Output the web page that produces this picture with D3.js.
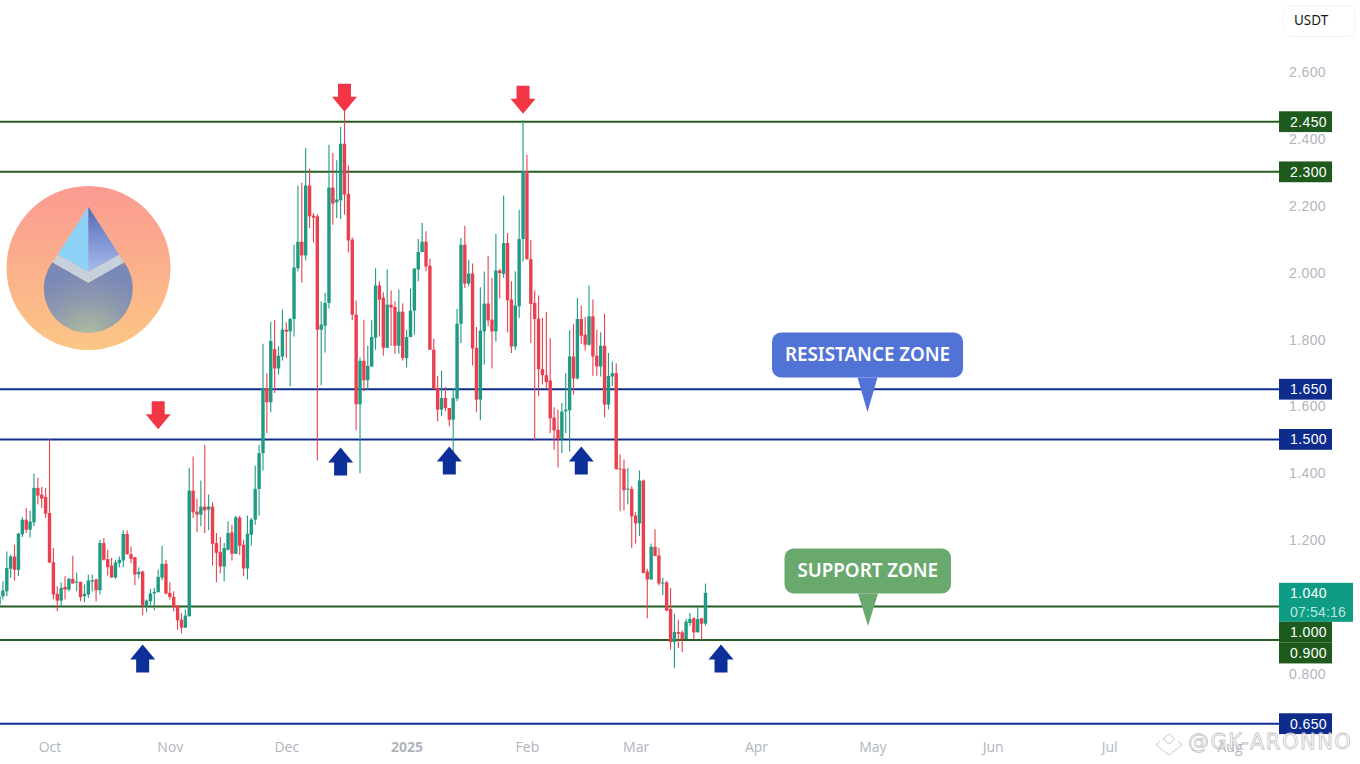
<!DOCTYPE html>
<html>
<head>
<meta charset="utf-8">
<script src="https://cdn.jsdelivr.net/npm/d3@7"></script>
<style>
  html, body { margin: 0; padding: 0; background: #fff; }
  svg { display: block; }
  text { font-family: "Noto Sans", sans-serif; }
</style>
</head>
<body>
<div id="vis-container"></div>
<script>
// daily candles, one per day, the last one is lastDay
const lastDay = "2025-03-19";

const opens = [
  1.006,1.031,1.046,1.113,1.150,1.110,1.216,1.260,1.230,1.252,
  1.355,1.335,1.328,1.280,1.133,1.038,1.018,1.059,1.051,1.083,
  1.073,1.074,1.031,1.036,1.075,1.081,1.049,1.190,1.142,1.123,
  1.087,1.130,1.138,1.217,1.157,1.148,1.097,1.105,1.001,1.016,
  1.040,1.043,1.087,1.128,1.041,1.029,1.003,0.961,0.937,0.971,
  1.347,1.284,1.275,1.299,1.290,1.299,1.190,1.164,1.120,1.170,
  1.222,1.158,1.266,1.185,1.114,1.215,1.260,1.352,1.459,1.653,
  1.611,1.770,1.712,1.748,1.828,1.823,1.860,2.012,2.091,2.050,
  2.259,2.169,2.167,1.828,1.840,1.908,2.253,2.209,2.215,2.384,
  2.234,2.097,1.873,1.605,1.735,1.677,1.718,1.804,1.960,1.924,
  1.774,1.903,1.896,1.780,1.882,1.743,1.806,1.885,2.008,2.060,
  2.091,2.019,1.768,1.653,1.589,1.624,1.594,1.559,1.622,1.846,
  2.082,1.966,1.996,1.774,1.619,1.823,1.906,1.858,1.823,2.005,
  1.995,2.087,1.918,1.778,1.898,2.099,2.302,2.039,1.908,1.861,
  1.710,1.692,1.676,1.565,1.529,1.501,1.584,1.587,1.748,1.682,
  1.860,1.813,1.783,1.868,1.750,1.718,1.780,1.604,1.688,1.698,
  1.413,1.412,1.351,1.352,1.272,1.249,1.377,1.105,1.081,1.179,
  1.153,1.070,1.072,0.993,0.894,0.924,0.923,0.903,0.951,0.965,
  0.923,0.965,0.949
];
const closes = [
  1.031,1.048,1.115,1.150,1.110,1.218,1.260,1.230,1.254,1.355,
  1.332,1.323,1.278,1.132,1.036,1.018,1.056,1.051,1.083,1.069,
  1.075,1.028,1.038,1.078,1.079,1.049,1.190,1.140,1.118,1.087,
  1.132,1.140,1.217,1.157,1.143,1.096,1.104,1.003,1.018,1.039,
  1.044,1.089,1.128,1.039,1.029,0.998,0.959,0.937,0.973,1.347,
  1.282,1.275,1.299,1.288,1.299,1.188,1.161,1.120,1.175,1.220,
  1.158,1.267,1.182,1.114,1.218,1.260,1.352,1.459,1.653,1.611,
  1.794,1.712,1.750,1.828,1.822,1.860,2.014,2.091,2.050,2.259,
  2.167,2.163,1.828,1.843,1.908,2.253,2.205,2.217,2.384,2.232,
  2.095,1.873,1.605,1.735,1.677,1.720,1.806,1.960,1.918,1.774,
  1.903,1.894,1.780,1.882,1.743,1.806,1.885,2.011,2.060,2.091,
  2.017,1.768,1.651,1.589,1.624,1.594,1.559,1.624,1.846,2.082,
  1.966,1.996,1.772,1.619,1.825,1.906,1.856,1.823,2.005,1.997,
  2.087,1.916,1.778,1.900,2.099,2.302,2.039,1.905,1.860,1.710,
  1.692,1.671,1.563,1.527,1.501,1.583,1.589,1.748,1.682,1.860,
  1.810,1.783,1.868,1.748,1.718,1.780,1.604,1.690,1.698,1.411,
  1.411,1.348,1.353,1.270,1.249,1.377,1.101,1.081,1.179,1.151,
  1.069,1.072,0.988,0.894,0.924,0.919,0.903,0.955,0.963,0.923,
  0.963,0.949,1.041
];
const highs = [
  1.036,1.076,1.165,1.155,1.185,1.220,1.268,1.295,1.287,1.398,
  1.385,1.358,1.355,1.501,1.175,1.061,1.073,1.091,1.086,1.152,
  1.101,1.074,1.066,1.096,1.096,1.084,1.200,1.205,1.170,1.145,
  1.140,1.150,1.228,1.228,1.180,1.148,1.117,1.107,1.021,1.053,
  1.056,1.111,1.182,1.140,1.073,1.046,1.003,0.981,0.991,1.415,
  1.449,1.323,1.377,1.484,1.335,1.312,1.220,1.208,1.190,1.255,
  1.245,1.272,1.272,1.200,1.272,1.265,1.422,1.484,1.786,1.698,
  1.852,1.856,1.778,1.888,1.850,1.863,2.082,2.259,2.267,2.371,
  2.309,2.177,2.174,1.913,1.938,2.381,2.356,2.335,2.434,2.488,
  2.319,2.104,1.915,1.745,1.858,1.780,1.856,2.012,1.973,1.940,
  2.008,1.945,1.913,1.948,1.906,1.828,1.951,2.011,2.099,2.147,
  2.122,2.040,1.801,1.690,1.705,1.657,1.594,1.654,1.890,2.102,
  2.139,2.037,2.026,1.836,1.955,2.002,2.049,1.983,2.114,2.010,
  2.229,2.117,1.973,2.003,2.187,2.454,2.351,2.097,1.945,1.930,
  1.863,1.882,1.803,1.596,1.589,1.609,1.698,1.826,1.846,1.923,
  1.900,1.866,1.960,1.918,1.828,1.820,1.876,1.758,1.733,1.728,
  1.455,1.440,1.415,1.360,1.282,1.407,1.380,1.113,1.189,1.231,
  1.176,1.086,1.077,1.056,0.979,0.961,0.929,0.963,0.981,0.969,
  1.001,0.967,1.069
];
const lows = [
  0.993,1.021,1.031,1.086,1.078,1.091,1.208,1.220,1.207,1.240,
  1.305,1.295,1.265,1.130,1.021,0.986,1.001,1.021,1.046,1.069,
  1.046,1.016,1.013,1.026,1.046,1.016,1.036,1.138,1.093,1.086,
  1.083,1.118,1.118,1.155,1.130,1.064,1.084,0.974,0.983,1.004,
  0.989,1.043,1.079,1.036,1.021,0.986,0.931,0.920,0.937,0.971,
  1.265,1.222,1.240,1.220,1.228,1.123,1.073,1.100,1.076,1.168,
  1.138,1.158,1.155,1.091,1.081,1.183,1.245,1.272,1.407,1.519,
  1.581,1.639,1.694,1.736,1.743,1.659,1.808,2.003,1.968,2.035,
  2.132,2.089,1.437,1.662,1.760,1.891,2.142,2.162,2.159,2.172,
  2.059,1.856,1.527,1.399,1.644,1.647,1.718,1.768,1.808,1.750,
  1.773,1.780,1.756,1.756,1.736,1.715,1.806,1.813,1.973,2.060,
  2.003,1.768,1.649,1.554,1.569,1.584,1.539,1.404,1.614,1.788,
  1.953,1.958,1.721,1.581,1.557,1.723,1.838,1.712,1.793,1.921,
  1.983,1.820,1.758,1.768,1.863,2.032,2.037,1.788,1.497,1.629,
  1.664,1.654,1.519,1.469,1.416,1.459,1.519,1.464,1.634,1.679,
  1.785,1.766,1.780,1.690,1.690,1.688,1.566,1.589,1.659,1.409,
  1.285,1.288,1.305,1.175,1.189,1.211,1.099,0.965,1.081,1.151,
  1.063,1.034,0.986,0.872,0.816,0.876,0.864,0.903,0.943,0.903,
  0.923,0.901,0.943
];

// horizontal levels
const greenLevels = [2.45, 2.3, 1.0, 0.9];
const blueLevels = [1.65, 1.5, 0.65];

const priceTicks = [2.6, 2.4, 2.2, 2.0, 1.8, 1.6, 1.4, 1.2, 0.8];
const monthDates = ["2024-10-01","2024-11-01","2024-12-01","2025-01-01","2025-02-01","2025-03-01","2025-04-01","2025-05-01","2025-06-01","2025-07-01","2025-08-01"];
const monthLabels = ["Oct","Nov","Dec","2025","Feb","Mar","Apr","May","Jun","Jul","Aug"];

// arrows: date and the price the tip points at
const redArrowDates = ["2024-12-16", "2025-01-31", "2024-10-29"];
const redArrowPrices = [2.480, 2.474, 1.530];
const blueArrowDates = ["2024-12-15", "2025-01-12", "2025-02-15", "2024-10-25", "2025-03-23"];
const blueArrowPrices = [1.476, 1.479, 1.479, 0.887, 0.887];

const lastPrice = 1.04;
const countdown = "07:54:16";

const width = 1360, height = 764;
const colorUp = "#1f9a83", colorDown = "#e8404f";
const colorGreenLine = "#255c22", colorBlueLine = "#0e2f8e";
const parseDay = d3.utcParse("%Y-%m-%d");

let svg = d3.select("#vis-container")
  .append("svg")
  .attr("width", width)
  .attr("height", height);

const x = d3.scaleUtc()
  .domain([parseDay(monthDates[0]), parseDay(monthDates[10])])
  .range([49.5, 1229.5]);

const y = d3.scaleLinear()
  .domain([0.8, 2.6])
  .range([673.5, 71.5]);

const candles = opens.map((o, i) => ({
  date: d3.utcDay.offset(parseDay(lastDay), i - opens.length + 1),
  open: o, high: highs[i], low: lows[i], close: closes[i]
}));

// logo
const defs = svg.append("defs");
const logoBg = defs.append("linearGradient").attr("id", "logoBg").attr("x2", 0).attr("y2", 1);
logoBg.append("stop").attr("offset", "0%").attr("stop-color", "#fb9a92");
logoBg.append("stop").attr("offset", "100%").attr("stop-color", "#fbc685");
const logoDrop = defs.append("radialGradient").attr("id", "logoDrop")
  .attr("cx", "50%").attr("cy", "100%").attr("r", "85%");
logoDrop.append("stop").attr("offset", "0%").attr("stop-color", "#aebb9f");
logoDrop.append("stop").attr("offset", "55%").attr("stop-color", "#8f99ad");
logoDrop.append("stop").attr("offset", "100%").attr("stop-color", "#7a88b6");
const logoSide = defs.append("linearGradient").attr("id", "logoSide").attr("x2", 0).attr("y2", 1);
logoSide.append("stop").attr("offset", "0%").attr("stop-color", "#5568b5");
logoSide.append("stop").attr("offset", "100%").attr("stop-color", "#a6bcee");

const logo = svg.append("g");
logo.append("circle").attr("cx", 88.5).attr("cy", 268).attr("r", 82).attr("fill", "url(#logoBg)");
logo.append("path").attr("d", "M52.3 262.3L88.3 282.7L124.3 262.3A44.5 44.5 0 1 1 52.3 262.3Z").attr("fill", "url(#logoDrop)");
logo.append("path").attr("d", "M57.7 255L88.3 271.7L119 255L124.3 262.3L88.3 282.7L52.3 262.3Z").attr("fill", "#c6d1dc");
logo.append("path").attr("d", "M88.3 206.7L57.7 254.5L88.3 271.7Z").attr("fill", "#8dd3f8");
logo.append("path").attr("d", "M88.3 206.7L119 254.5L88.3 271.7Z").attr("fill", "url(#logoSide)");

// price axis
const yAxis = d3.axisRight(y)
  .tickValues(priceTicks)
  .tickSize(0)
  .tickPadding(0)
  .tickFormat(d3.format(".3f"));
const yAxisG = svg.append("g")
  .attr("transform", "translate(1289,0.5)")
  .call(yAxis);
yAxisG.select(".domain").remove();
yAxisG.selectAll("text")
  .attr("fill", "#b2b5be")
  .attr("font-size", 14)
  .style("font-family", "Liberation Sans")
  .style("letter-spacing", "0.4px");

// time axis
const xAxis = d3.axisBottom(x)
  .tickValues(monthDates.map(parseDay))
  .tickSize(0)
  .tickPadding(0)
  .tickFormat((d, i) => monthLabels[i]);
const xAxisG = svg.append("g")
  .attr("transform", "translate(0,742)")
  .call(xAxis);
xAxisG.select(".domain").remove();
xAxisG.selectAll("text")
  .attr("fill", "#b2b5be")
  .attr("font-weight", (d, i) => monthLabels[i] === "2025" ? "700" : "400")
  .attr("font-size", 14)
  .style("font-family", "Open Sans");

// level lines
svg.selectAll(".green-level")
  .data(greenLevels)
  .enter()
  .append("line")
    .attr("x1", 0).attr("x2", 1279)
    .attr("y1", d => y(d)).attr("y2", d => y(d))
    .attr("stroke", colorGreenLine)
    .attr("stroke-width", 2);
svg.selectAll(".blue-level")
  .data(blueLevels)
  .enter()
  .append("line")
    .attr("x1", 0).attr("x2", 1279)
    .attr("y1", d => y(d)).attr("y2", d => y(d))
    .attr("stroke", colorBlueLine)
    .attr("stroke-width", 2);

// candles
let candle = svg.append("g").selectAll("g")
  .data(candles)
  .enter()
  .append("g");
candle.append("line")
  .attr("x1", d => x(d.date)).attr("x2", d => x(d.date))
  .attr("y1", d => y(d.high)).attr("y2", d => y(d.low))
  .attr("stroke", d => d.close >= d.open ? colorUp : colorDown)
  .attr("stroke-width", 1.1);
candle.append("rect")
  .attr("x", d => x(d.date) - 1.7)
  .attr("width", 3.4)
  .attr("y", d => y(Math.max(d.open, d.close)))
  .attr("height", d => Math.max(1, Math.abs(y(d.open) - y(d.close))))
  .attr("fill", d => d.close >= d.open ? colorUp : colorDown);

// arrows, drawn from the tip
const arrowDown = function(px, py) {
  const p = d3.path();
  p.moveTo(px, py);
  p.lineTo(px - 12.5, py - 15);
  p.lineTo(px - 6.5, py - 15);
  p.lineTo(px - 6.5, py - 28);
  p.lineTo(px + 6.5, py - 28);
  p.lineTo(px + 6.5, py - 15);
  p.lineTo(px + 12.5, py - 15);
  p.closePath();
  return p.toString();
};
const arrowUp = function(px, py) {
  const p = d3.path();
  p.moveTo(px, py);
  p.lineTo(px - 12.5, py + 15);
  p.lineTo(px - 6.5, py + 15);
  p.lineTo(px - 6.5, py + 28);
  p.lineTo(px + 6.5, py + 28);
  p.lineTo(px + 6.5, py + 15);
  p.lineTo(px + 12.5, py + 15);
  p.closePath();
  return p.toString();
};
svg.selectAll(".red-arrow")
  .data(redArrowDates)
  .enter()
  .append("path")
    .attr("d", (d, i) => arrowDown(x(parseDay(d)), y(redArrowPrices[i])))
    .attr("fill", "#f23645");
svg.selectAll(".blue-arrow")
  .data(blueArrowDates)
  .enter()
  .append("path")
    .attr("d", (d, i) => arrowUp(x(parseDay(d)), y(blueArrowPrices[i])))
    .attr("fill", "#0c2f9a");

// callouts
const callout = function(left, right, top, bottom, tipX, tipY, fill, label) {
  const g = svg.append("g");
  g.append("path")
    .attr("d", `M${tipX - 10} ${bottom}L${tipX + 10} ${bottom}L${tipX} ${tipY}Z`)
    .attr("fill", fill);
  g.append("rect")
    .attr("x", left).attr("y", top)
    .attr("width", right - left).attr("height", bottom - top)
    .attr("rx", 9)
    .attr("fill", fill);
  g.append("text")
    .attr("x", (left + right) / 2)
    .attr("y", (top + bottom) / 2 - 1.5)
    .attr("text-anchor", "middle")
    .attr("dominant-baseline", "central")
    .attr("fill", "#fff")
    .attr("font-size", 18.8)
    .attr("font-weight", 600)
    .text(label);
};
callout(772, 963, 332.5, 377.5, 867.5, 412, "#5273d6", "RESISTANCE ZONE");
callout(784.5, 951, 548.5, 593.5, 868, 626, "#6aa96e", "SUPPORT ZONE");

// price labels on the axis, pushed down when they would overlap
const boxLabels = [];
greenLevels.forEach(d => boxLabels.push({ value: d, fill: "#1f5a1d" }));
blueLevels.forEach(d => boxLabels.push({ value: d, fill: "#0e2c8c" }));
boxLabels.push({ value: lastPrice, fill: "#0f9c85", last: true });
boxLabels.sort((a, b) => b.value - a.value);

let nextTop = 0;
boxLabels.forEach(d => {
  const h = d.last ? 39 : 20.8;
  const top = Math.max(y(d.value) - 10.4, nextTop);
  nextTop = top + h;
  const w = d.last ? 74 : 53;
  svg.append("rect")
    .attr("x", 1279).attr("y", top)
    .attr("width", w).attr("height", h)
    .attr("fill", d.fill);
  svg.append("text")
    .attr("x", 1290).attr("y", top + 10.4)
    .attr("dominant-baseline", "central")
    .attr("fill", "#fff")
    .attr("font-size", 14)
    .style("font-family", "Liberation Sans")
    .style("letter-spacing", "0.4px")
    .text(d3.format(".3f")(d.value));
  if (d.last) {
    svg.append("text")
      .attr("x", 1290).attr("y", top + 29)
      .attr("dominant-baseline", "central")
      .attr("fill", "#b9e6dc")
      .attr("font-size", 14)
      .style("font-family", "Liberation Sans")
      .style("letter-spacing", "0.2px")
      .text(countdown);
  }
});

// currency button
svg.append("rect")
  .attr("x", 1283.5).attr("y", 5.5)
  .attr("width", 71).attr("height", 31)
  .attr("rx", 6)
  .attr("fill", "#fff")
  .attr("stroke", "#f0f3fa");
svg.append("text")
  .attr("x", 1294).attr("y", 20)
  .attr("dominant-baseline", "central")
  .attr("fill", "#131722")
  .attr("font-size", 13.5)
  .text("USDT");

// watermark
const mark = svg.append("g")
  .attr("fill", "none")
  .attr("stroke", "#c9c9c9")
  .attr("stroke-width", 1);
mark.append("path").attr("d", "M1169 734l-6 5l6 5l6 -5zM1156 745l13 10l13 -10M1160 741l-4 4M1178 741l4 4");
svg.append("text")
  .attr("x", 1188).attr("y", 749)
  .attr("fill", "#fff")
  .attr("fill-opacity", 0.6)
  .attr("stroke", "#c4c4c4")
  .attr("stroke-width", 0.8)
  .attr("font-size", 21)
  .style("font-family", "DejaVu Sans")
  .style("letter-spacing", "1.5px")
  .text("@GK-ARONNO");
</script>
</body>
</html>
